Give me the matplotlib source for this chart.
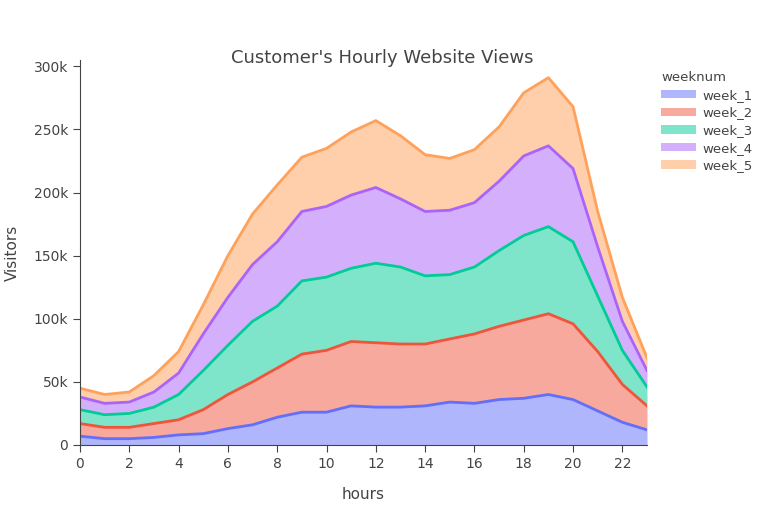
import matplotlib
matplotlib.use("Agg")
import matplotlib.pyplot as plt
import numpy as np

hours = list(range(24))
# cumulative (stacked) tops, in visitors
cum_week_1 = [7e3, 5e3, 5e3, 6e3, 8e3, 9e3, 13e3, 16e3, 22e3, 26e3, 26e3, 31e3, 30e3, 30e3, 31e3, 34e3, 33e3, 36e3, 37e3, 40e3, 36e3, 27e3, 18e3, 12e3]
cum_week_2 = [17e3, 14e3, 14e3, 17e3, 20e3, 28e3, 40e3, 50e3, 61e3, 72e3, 75e3, 82e3, 81e3, 80e3, 80e3, 84e3, 88e3, 94e3, 99e3, 104e3, 96e3, 74e3, 48e3, 31e3]
cum_week_3 = [28e3, 24e3, 25e3, 30e3, 40e3, 59e3, 79e3, 98e3, 110e3, 130e3, 133e3, 140e3, 144e3, 141e3, 134e3, 135e3, 141e3, 154e3, 166e3, 173e3, 161e3, 118e3, 75e3, 46e3]
cum_week_4 = [38e3, 33e3, 34e3, 42e3, 57e3, 88e3, 117e3, 143e3, 161e3, 185e3, 189e3, 198e3, 204e3, 195e3, 185e3, 186e3, 192e3, 209e3, 229e3, 237e3, 219e3, 157e3, 98e3, 59e3]
cum_week_5 = [45e3, 40e3, 42e3, 55e3, 74e3, 111e3, 150e3, 183e3, 206e3, 228e3, 235e3, 248e3, 257e3, 245e3, 230e3, 227e3, 234e3, 252e3, 279e3, 291e3, 268e3, 185e3, 117e3, 69e3]
labels = ["week_1", "week_2", "week_3", "week_4", "week_5"]
colors = ["#636efa", "#EF553B", "#00cc96", "#ab63fa", "#FFA15A"]

tops = [cum_week_1, cum_week_2, cum_week_3, cum_week_4, cum_week_5]

fig = plt.figure(figsize=(7.64, 5.25), dpi=100)
ax = fig.add_axes([80 / 764, 80 / 525, (647 - 80) / 764, (445 - 60) / 525])
bottom = np.zeros(len(hours))
for top, lab, c in zip(tops, labels, colors):
    top = np.array(top)
    ax.fill_between(hours, bottom, top, color=c, alpha=0.5, linewidth=0, label=lab)
    ax.plot(hours, top, color=c, lw=2)
    bottom = top

ax.set_xlim(0, 23)
ax.set_ylim(0, 305e3)
ax.set_xticks(range(0, 23, 2))
ax.set_yticks([0, 50e3, 100e3, 150e3, 200e3, 250e3, 300e3])
ax.set_yticklabels(["0", "50k", "100k", "150k", "200k", "250k", "300k"])
for s in ["top", "right"]:
    ax.spines[s].set_visible(False)
for s in ["left", "bottom"]:
    ax.spines[s].set_color("#444444")
ax.tick_params(colors="#444444", labelsize=10, direction="out", length=5)
ax.set_xlabel("hours", fontsize=11, color="#444444", labelpad=12)
ax.set_ylabel("Visitors", fontsize=11, color="#444444", labelpad=10)
fig.text(382 / 764, 1 - 58 / 525, "Customer's Hourly Website Views", ha="center", va="center",
         fontsize=13, color="#444444")
leg = fig.legend(loc="upper left", bbox_to_anchor=(652 / 764, 1 - 62 / 525), frameon=False,
                 fontsize=9.5, title="weeknum", alignment="left", handlelength=2.6,
                 handleheight=0.6, labelspacing=0.35, handletextpad=0.5, borderpad=0.2)
leg.get_title().set_fontsize(9.5)
leg.get_title().set_color("#444444")
for t in leg.get_texts():
    t.set_color("#444444")
fig.savefig("out.png", dpi=100)
